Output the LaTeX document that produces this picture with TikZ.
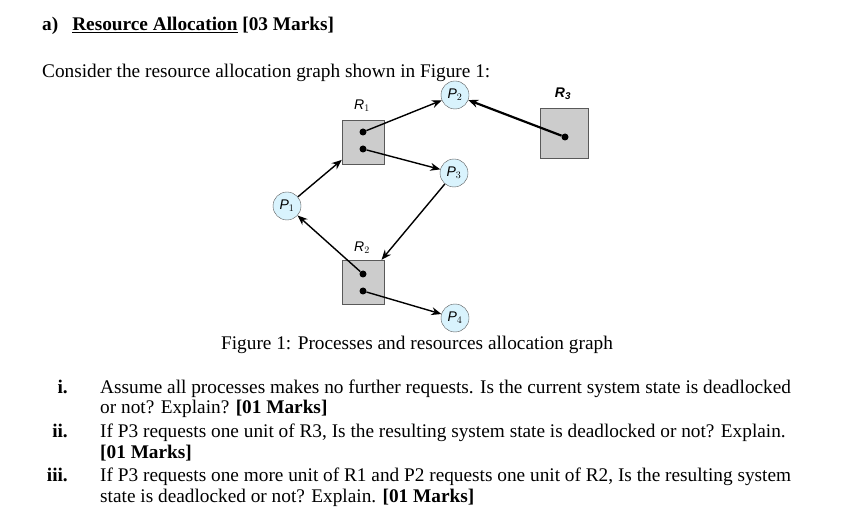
\documentclass[tikz,border=0pt]{standalone}
\usepackage{fontspec}
\setmainfont{Liberation Serif}
\newfontfamily\arial{Liberation Sans}
\usetikzlibrary{arrows.meta}
\begin{document}
\begin{tikzpicture}[x=1pt,y=-1pt,
  txt/.style={anchor=base west,inner sep=0pt,font=\fontsize{19.3}{22}\selectfont},
  num/.style={anchor=base east,inner sep=0pt,font=\fontsize{19.3}{22}\selectfont\bfseries},
  proc/.style={circle,draw=gray!70!black,fill=cyan!15,minimum size=28pt,inner sep=0pt,font=\arial\itshape\fontsize{14}{14}\selectfont},
  res/.style={draw=gray!70!black,fill=gray!40,minimum width=42pt,minimum height=44pt,inner sep=0pt},
  dot/.style={circle,fill=black,inner sep=0pt,minimum size=7pt},
  lab/.style={font=\arial\itshape\fontsize{14}{14}\selectfont,inner sep=0pt},
  edge/.style={-{Stealth[length=10pt,width=8pt]},line width=1.4pt}]
\useasboundingbox (0,0) rectangle (844,513);
\fill[white] (0,0) rectangle (844,513);
\node[txt,font=\fontsize{19.3}{22}\selectfont\bfseries] (t) at (42,31) {a)\hspace{14pt}\underline{Resource Allocation} [03 Marks]};
\node[txt] (c) at (42,78) {Consider the resource allocation graph shown in Figure 1:};
\node[res] (R1) at (363,142) {};
\node[res] (R2) at (363,282) {};
\node[res,minimum width=48pt,minimum height=50pt] (R3) at (564,133) {};
\node[dot] (d11) at (363,132) {};
\node[dot] (d12) at (363,149) {};
\node[dot] (d21) at (363,274) {};
\node[dot] (d22) at (363,291) {};
\node[dot] (d3) at (565,137) {};
\node[lab] (l1) at (362,106) {R$_1$};
\node[lab] (l2) at (362,248) {R$_2$};
\node[lab,font=\arial\bfseries\itshape\fontsize{14}{14}\selectfont] (l3) at (563,94) {R\textsubscript{3}};
\node[proc] (P1) at (287,206) {P$_1$};
\node[proc] (P2) at (455,95) {P$_2$};
\node[proc] (P3) at (454,173) {P$_3$};
\node[proc] (P4) at (455,318) {P$_4$};
\draw[edge] (P1) -- (R1);
\draw[edge] (d11) -- (P2);
\draw[edge] (d12) -- (P3);
\draw[edge] (P3) -- (R2);
\draw[edge] (d21) -- (P1);
\draw[edge] (d22) -- (P4);
\draw[edge,line width=2.2pt] (d3) -- (P2);
\node[anchor=base,inner sep=0pt,font=\fontsize{19.3}{22}\selectfont] (cap) at (417,349) {Figure 1: Processes and resources allocation graph};
\node[num] (n1) at (68,393) {i.};
\node[txt] (a1) at (100,393) {Assume all processes makes no further requests. Is the current system state is deadlocked};
\node[txt] (a2) at (100,413) {or not? Explain? \textbf{[01 Marks]}};
\node[num] (n2) at (68,437) {ii.};
\node[txt] (b1) at (100,437) {If P3 requests one unit of R3, Is the resulting system state is deadlocked or not? Explain.};
\node[txt] (b2) at (100,458) {\textbf{[01 Marks]}};
\node[num] (n3) at (68,481) {iii.};
\node[txt] (e1) at (100,481) {If P3 requests one more unit of R1 and P2 requests one unit of R2, Is the resulting system};
\node[txt] (e2) at (100,502) {state is deadlocked or not? Explain. \textbf{[01 Marks]}};
\end{tikzpicture}
\end{document}
